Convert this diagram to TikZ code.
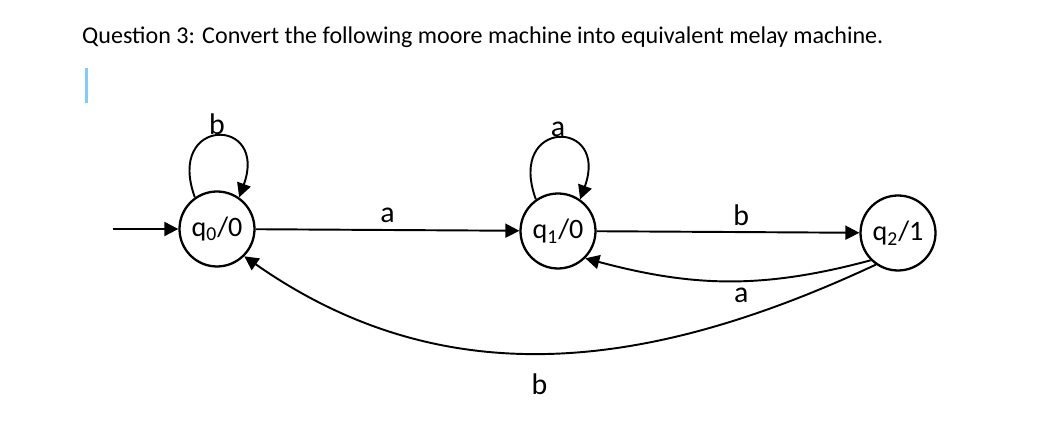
\documentclass[tikz,border=0pt]{standalone}
\usepackage{fontspec}
\setmainfont{Carlito}
\usetikzlibrary{arrows.meta}
\begin{document}
\begin{tikzpicture}[x=0.02cm,y=-0.02cm,>={Triangle[length=8pt,width=8pt]},
  state/.style={circle,draw=black,line width=1.3pt,minimum size=1.5cm,inner sep=0pt,font=\fontsize{16}{18}\selectfont},
  edge/.style={->,line width=1.1pt},
  lbl/.style={font=\fontsize{17}{19}\selectfont}]
			\useasboundingbox (0,0) rectangle (1044,421);
			\node[anchor=west,font=\fontsize{13.7}{16}\selectfont] (title) at (76,37) {Question 3: Convert the following moore machine into equivalent melay machine.};
			\fill[blue!40!cyan!50] (85,68) rectangle (88,103);
			
			% states
			
			\node[state] (Q0) at (217,229) {q\textsubscript{0}/0};
			\node[state] (Q1) at (558,231) {q\textsubscript{1}/0};
			\node[state] (Q2) at (898,233) {q\textsubscript{2}/1};
			\coordinate (start) at (113,229);
			
			\draw[edge] (start) -- (Q0);
			\draw[edge] (Q0.125) to[out=110,in=70,looseness=5] node[lbl,above=-3pt] {b} (Q0.55);
			\draw[edge] (Q1.125) to[out=110,in=70,looseness=5] node[lbl,above=-3pt] {a} (Q1.55);
			\draw[edge] (Q0) -- node[lbl,above] {a} (Q1);
			\draw[edge] (Q1) -- node[lbl,above,pos=0.55] {b} (Q2);
			\draw[edge] (Q2.south west) to[out=195,in=-15] node[lbl,below,pos=0.45] {a} (Q1.south east);
			\draw[edge] (Q2.-125) to[out=205,in=-35] node[lbl,below=8pt,pos=0.52] {b} (Q0.south east);
		\end{tikzpicture}
\end{document}
